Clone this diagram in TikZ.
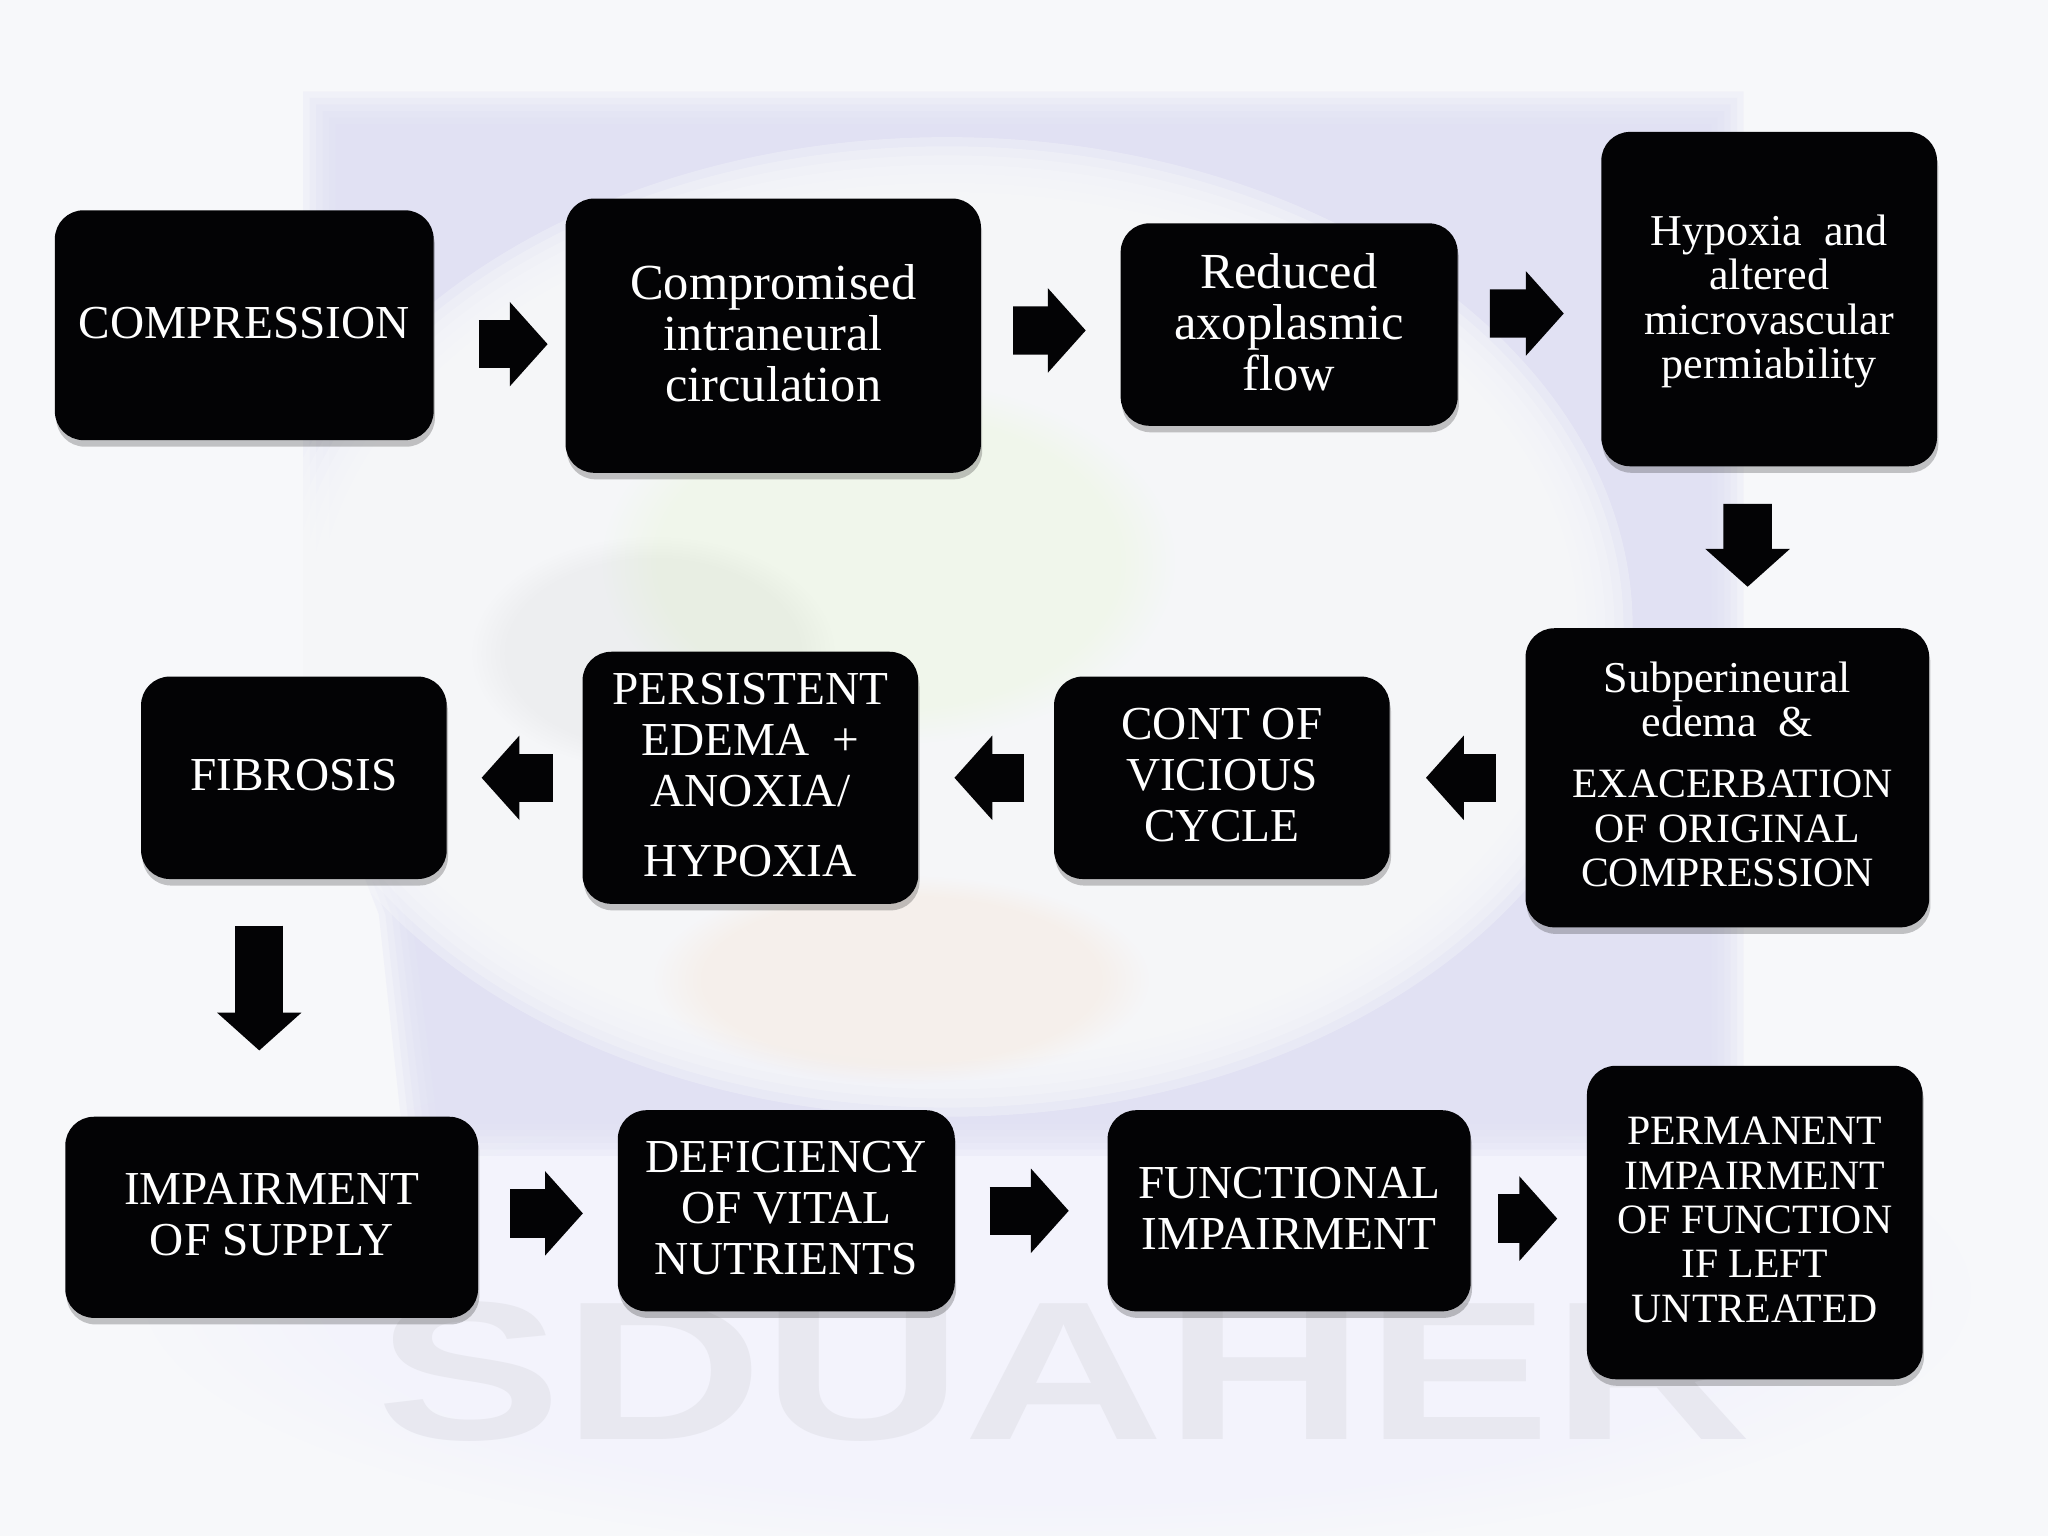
\documentclass[tikz,border=0pt]{standalone}
\usepackage{fontspec}
\setmainfont{Liberation Serif}
\newfontfamily\marksans{Liberation Sans}
\usetikzlibrary{arrows.meta,calc,shadows,fadings}
\definecolor{pagebg}{HTML}{F7F8FA}
\definecolor{lavband}{HTML}{DFDFF3}
\definecolor{lavpale}{HTML}{F2F2FD}
\definecolor{markgrey}{HTML}{E8E8F0}
\definecolor{boxblack}{HTML}{030305}
\tikzset{
    flowbox/.style={fill=boxblack,text=white,rounded corners=2.2mm,align=center,inner sep=0pt,text depth=1.2pt,
        drop shadow={shadow xshift=0.1mm,shadow yshift=-0.5mm,opacity=0.22,fill=black}},
    blockarrow/.style={draw=boxblack,line width=3.7mm,-{Triangle[length=2.9mm,width=6.3mm,sep=0pt]}},
    smudge/.style={path fading=circle with fuzzy edge 20 percent},
}
\newcommand{\capsbig}{\fontsize{10.3}{11.1}\selectfont}
\newcommand{\lowbig}{\fontsize{11.0}{11.1}\selectfont}
\newcommand{\capssmall}{\fontsize{9.1}{9.65}\selectfont}
\newcommand{\lowsmall}{\fontsize{9.6}{9.65}\selectfont}
\begin{document}
\begin{tikzpicture}[x=1cm,y=-1cm]
    \useasboundingbox (0,0) rectangle (15.68,11.76);
    % washed out background
    \fill[pagebg] (0,0) rectangle (15.68,11.76);
    \fill[lavpale,opacity=0.7,smudge] (8.1,9.9) ellipse [x radius=7.0,y radius=2.0];
    \foreach \g in {0,0.05,0.10,0.15,0.20,0.25}
        \fill[lavband,opacity=0.25] (2.32+\g,0.70+\g) -- (13.35-\g,0.70+\g) -- (13.35-\g,8.85-\g) -- (3.1+\g,8.85-\g) -- (2.9+\g,7.0) -- (2.32+\g,5.5) -- cycle;
    \foreach \g in {0,0.07,0.14,0.21,0.28,0.35,0.42,0.49}
        \fill[pagebg,opacity=0.35] (7.25,4.80) ellipse [x radius=5.25-\g,y radius=3.75-\g];
    \fill[green!40!yellow,opacity=0.05,smudge] (6.8,4.3) ellipse [x radius=2.2,y radius=1.4];
    \fill[black,opacity=0.03,smudge] (5.0,5.0) ellipse [x radius=1.4,y radius=0.9];
    \fill[red!50!yellow,opacity=0.05,smudge] (6.9,7.5) ellipse [x radius=1.9,y radius=0.8];
    \node[text=markgrey,xscale=1.41,font=\marksans\bfseries\fontsize{43}{43}\selectfont,inner sep=0pt] (watermark) at (8.15,10.50) {SDUAHER};

    % first row
    \node[flowbox,minimum width=2.90cm,minimum height=1.76cm,font=\capsbig] (compression) at (1.87,2.49) {COMPRESSION};
    \node[flowbox,minimum width=3.18cm,minimum height=2.10cm,font=\lowbig] (circulation) at (5.92,2.57) {Compromised\\intraneural\\circulation};
    \node[flowbox,minimum width=2.58cm,minimum height=1.55cm,font=\lowbig] (flow) at (9.87,2.485) {Reduced\\axoplasmic\\flow};
    \node[flowbox,minimum width=2.57cm,minimum height=2.56cm,font=\lowsmall,text depth=1pt] (hypoxia) at (13.545,2.29) {Hypoxia\ \ and\\altered\\microvascular\\permiability};

    % second row
    \node[flowbox,minimum width=3.09cm,minimum height=2.29cm,font=\capssmall,text depth=1.6pt] (edema) at (13.225,5.955) {{\lowsmall Subperineural}\\{\lowsmall edema\ \ \&}\\[1.3mm]\hspace*{0.8mm}EXACERBATION\\OF ORIGINAL\\COMPRESSION};
    \node[flowbox,minimum width=2.57cm,minimum height=1.55cm,font=\capsbig] (vicious) at (9.355,5.955) {CONT OF\\VICIOUS\\CYCLE};
    \node[flowbox,minimum width=2.57cm,minimum height=1.93cm,font=\capsbig] (persistent) at (5.745,5.955) {PERSISTENT\\EDEMA\ \ +\\ANOXIA/\\[1.5mm]HYPOXIA};
    \node[flowbox,minimum width=2.34cm,minimum height=1.55cm,font=\capsbig] (fibrosis) at (2.25,5.955) {FIBROSIS};

    % third row
    \node[flowbox,minimum width=3.16cm,minimum height=1.54cm,font=\capsbig] (supply) at (2.08,9.32) {IMPAIRMENT\\OF SUPPLY};
    \node[flowbox,minimum width=2.58cm,minimum height=1.54cm,font=\capsbig] (nutrients) at (6.02,9.27) {DEFICIENCY\\OF VITAL\\NUTRIENTS};
    \node[flowbox,minimum width=2.78cm,minimum height=1.54cm,font=\capsbig] (functional) at (9.87,9.27) {FUNCTIONAL\\IMPAIRMENT};
    \node[flowbox,minimum width=2.57cm,minimum height=2.40cm,font=\capssmall] (permanent) at (13.435,9.36) {PERMANENT\\IMPAIRMENT\\OF FUNCTION\\IF LEFT\\UNTREATED};

    % block arrows
    \draw[blockarrow] ($(compression.east)+(0.34,0.145)$) -- ($(circulation.west)+(-0.13,0.065)$);
    \draw[blockarrow] ($(circulation.east)+(0.24,-0.04)$) -- ($(flow.west)+(-0.26,0.045)$);
    \draw[blockarrow] ($(flow.east)+(0.24,-0.085)$) -- ($(hypoxia.west)+(-0.28,0.11)$);
    \draw[blockarrow] ($(hypoxia.south)+(-0.165,0.28)$) -- ($(edema.north)+(0.155,-0.31)$);
    \draw[blockarrow] ($(edema.west)+(-0.22,0)$) -- ($(vicious.east)+(0.27,0)$);
    \draw[blockarrow] ($(vicious.west)+(-0.22,0)$) -- ($(persistent.east)+(0.27,0)$);
    \draw[blockarrow] ($(persistent.west)+(-0.22,0)$) -- ($(fibrosis.east)+(0.26,0)$);
    \draw[blockarrow] ($(fibrosis.south)+(-0.265,0.35)$) -- ($(supply.north)+(-0.095,-0.50)$);
    \draw[blockarrow] ($(supply.east)+(0.24,-0.03)$) -- ($(nutrients.west)+(-0.26,0.02)$);
    \draw[blockarrow] ($(nutrients.east)+(0.26,0)$) -- ($(functional.west)+(-0.29,0)$);
    \draw[blockarrow] ($(functional.east)+(0.20,0.06)$) -- ($(permanent.west)+(-0.22,-0.03)$);
\end{tikzpicture}
\end{document}
